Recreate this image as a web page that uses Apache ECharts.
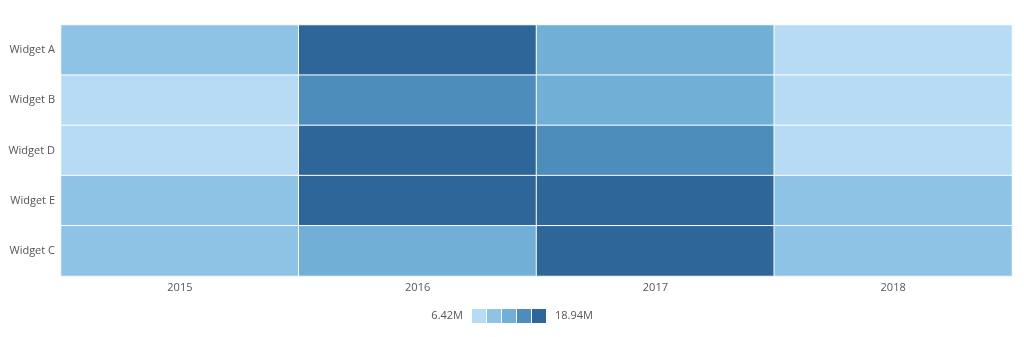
<!DOCTYPE html>
<html>
<head>
<meta charset="utf-8">
<script src="https://cdn.jsdelivr.net/npm/echarts@6/dist/echarts.min.js"></script>
<style>
  html, body { margin: 0; padding: 0; background: #ffffff; }
  #chart { width: 1024px; height: 337px; }
</style>
</head>
<body>
<div id="chart"></div>
<script>
// Yearly sales per product (in units of currency)
const years = ['2015', '2016', '2017', '2018'];
const products = ['Widget A', 'Widget B', 'Widget D', 'Widget E', 'Widget C'];

const widgetA = [9800000, 17600000, 12500000, 6420000];
const widgetB = [7300000, 15100000, 12900000, 7900000];
const widgetD = [6900000, 18200000, 14600000, 7100000];
const widgetE = [10200000, 18940000, 17900000, 9600000];
const widgetC = [10700000, 12200000, 17200000, 10100000];

const legendLow = '6.42M';
const legendHigh = '18.94M';

const rows = [widgetA, widgetB, widgetD, widgetE, widgetC];
const cells = [];
rows.forEach((row, r) => {
  row.forEach((v, c) => cells.push([c, r, v]));
});
const allValues = rows.flat();
const minVal = Math.min(...allValues);
const maxVal = Math.max(...allValues);

// Colour scale swatches sit between the low and high end labels
const swatchLeft = 472;
const swatchTop = 309;
const swatchSize = 14;
const swatchGap = 1;
const swatchCount = 5;
const swatchRight = swatchLeft + swatchCount * swatchSize + (swatchCount - 1) * swatchGap;
const labelGap = 9;

const chart = echarts.init(document.getElementById('chart'));
chart.setOption({
  animation: false,
  textStyle: { fontFamily: '"Open Sans", sans-serif' },
  grid: { left: 61, right: 12, top: 25, bottom: 61 },
  xAxis: {
    type: 'category',
    data: years,
    axisLine: { show: true, lineStyle: { color: '#e6e6e6' } },
    axisTick: { show: false },
    axisLabel: { color: '#555', fontSize: 11, margin: 6 },
    splitArea: { show: false }
  },
  yAxis: {
    type: 'category',
    data: products,
    inverse: true,
    axisLine: { show: false },
    axisTick: { show: false },
    axisLabel: { color: '#555', fontSize: 11, margin: 6 }
  },
  visualMap: {
    type: 'piecewise',
    min: minVal,
    max: maxVal,
    splitNumber: swatchCount,
    orient: 'horizontal',
    left: swatchLeft,
    top: swatchTop,
    padding: 0,
    itemWidth: swatchSize,
    itemHeight: swatchSize,
    itemGap: swatchGap,
    itemSymbol: 'rect',
    showLabel: false,
    inRange: { color: ['#b7dbf4', '#8ec3e5', '#71afd7', '#4d8dbb', '#2f6699'] }
  },
  graphic: [
    {
      type: 'text',
      x: swatchLeft - labelGap,
      y: swatchTop + swatchSize / 2,
      style: {
        text: legendLow,
        align: 'right',
        verticalAlign: 'middle',
        fill: '#555',
        font: '11px "Open Sans", sans-serif'
      }
    },
    {
      type: 'text',
      x: swatchRight + labelGap,
      y: swatchTop + swatchSize / 2,
      style: {
        text: legendHigh,
        align: 'left',
        verticalAlign: 'middle',
        fill: '#555',
        font: '11px "Open Sans", sans-serif'
      }
    }
  ],
  series: [{
    type: 'heatmap',
    data: cells,
    itemStyle: { borderColor: '#ffffff', borderWidth: 1 },
    emphasis: { disabled: true }
  }]
});
</script>
</body>
</html>
